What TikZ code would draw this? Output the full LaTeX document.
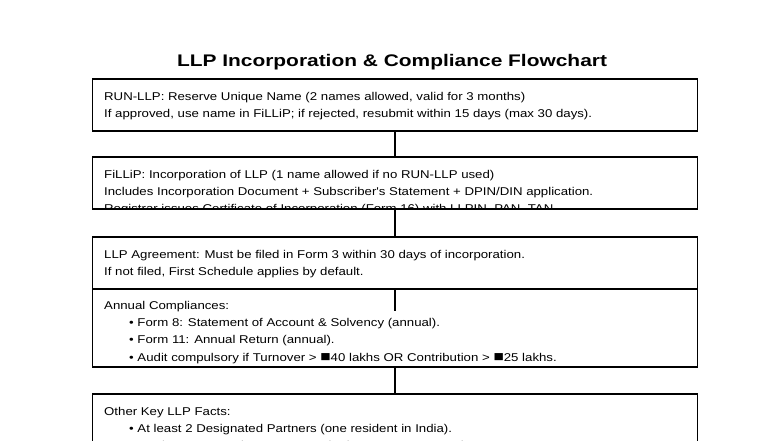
\documentclass[tikz,border=0pt]{standalone}
\usepackage{fontspec}
\setmainfont{Liberation Sans}
\newfontfamily\bodyfont{Liberation Sans}[FakeStretch=1.17]
\newfontfamily\titlefont{Liberation Sans}[FakeStretch=1.245]
\tikzset{
  box/.style={draw=black, line width=1.8pt, rectangle, minimum width=605pt, inner sep=0pt},
  txt/.style={anchor=base west, inner sep=0pt, font=\bodyfont\fontsize{11.3pt}{17.2pt}\selectfont},
  ttl/.style={anchor=base, inner sep=0pt, font=\titlefont\bfseries\fontsize{16.8pt}{20pt}\selectfont},
  link/.style={draw=black, line width=1.9pt},
}
\newcommand{\bltitem}{\hspace*{25pt}\textbullet\ }
\newcommand{\rupee}{\scalebox{1.3}{■}}
\newcommand{\lines}[1]{\parbox[t]{600pt}{\raggedright #1\par}}
\begin{document}
\begin{tikzpicture}[x=1pt,y=-1pt]
\useasboundingbox (0,0) rectangle (784,441);
\fill[white] (0,0) rectangle (784,441);

\node[ttl] (title) at (392,67) {LLP Incorporation \& Compliance Flowchart};

% boxes
\node[box, minimum height=52pt] (b1) at (395,105) {};
\node[box, minimum height=52pt] (b2) at (395,183) {};
\node[box, minimum height=52pt] (b3) at (395,263) {};
\node[box, minimum height=78pt] (b4) at (395,328) {};
\node[box, minimum height=78pt] (b5) at (395,433) {};

% texts
\node[txt] (t1) at (104,100.3) {\lines{RUN-LLP: Reserve Unique Name (2 names allowed, valid for 3 months)\\
If approved, use name in FiLLiP; if rejected, resubmit within 15 days (max 30 days).}};

\begin{scope}
  \clip (b2.north west) rectangle ([yshift=0.9pt]b2.south east);
  \node[txt] (t2) at (104,178) {\lines{FiLLiP: Incorporation of LLP (1 name allowed if no RUN-LLP used)\\
  Includes Incorporation Document + Subscriber's Statement + DPIN/DIN application.\\
  Registrar issues Certificate of Incorporation (Form 16) with LLPIN, PAN, TAN}};
\end{scope}

\node[txt] (t3) at (104,258) {\lines{LLP Agreement: Must be filed in Form 3 within 30 days of incorporation.\\
If not filed, First Schedule applies by default.}};

\node[txt] (t4) at (104,309.5) {\lines{Annual Compliances:\\
\bltitem Form 8: Statement of Account \& Solvency (annual).\\
\bltitem Form 11: Annual Return (annual).\\
\bltitem Audit compulsory if Turnover > \rupee40 lakhs OR Contribution > \rupee25 lakhs.}};

\node[txt] (t5) at (104,415.5) {\lines{Other Key LLP Facts:\\
\bltitem At least 2 Designated Partners (one resident in India).\\
\bltitem DIN/DPIN merged → one ID works for LLPs \& Companies.}};

% connectors
\coordinate (c4) at (395,311);
\draw[link] (b1.south) -- (b2.north);
\draw[link] (b2.south) -- (b3.north);
\draw[link] (b3.south) -- (c4);
\draw[link] (b4.south) -- (b5.north);
\end{tikzpicture}
\end{document}
